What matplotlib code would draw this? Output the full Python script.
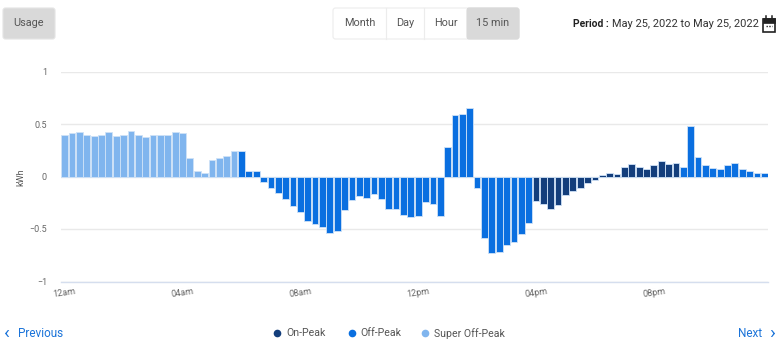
import matplotlib
matplotlib.use("Agg")
import matplotlib.pyplot as plt
from matplotlib.patches import FancyBboxPatch, Rectangle

plt.rcParams['font.family'] = ['Roboto', 'DejaVu Sans']

super_vals = [.40,.41,.425,.40,.39,.40,.42,.385,.40,.43,.40,.375,.40,.395,.40,.42,.41,.18,.05,.035,.16,.175,.195,.24]
off1_vals = [.245,.055,.055,-.055,-.11,-.16,-.21,-.28,-.34,-.42,-.455,-.485,-.535,-.515,-.32,-.22,-.19,-.205,-.165,-.21,
             -.31,-.31,-.37,-.39,-.375,-.24,-.265,-.375,.285,.59,.595,.65,-.11,-.585,-.73,-.715,-.655,-.62,-.55,-.44]
on_vals = [-.235,-.265,-.31,-.27,-.18,-.135,-.11,-.06,-.03,.01,.035,.02,.09,.115,.09,.07,.105,.145,.115,.125]
off2_vals = [.09,.485,.19,.105,.085,.07,.11,.125,.07,.055,.035,.035]
x_ticks = [0,16,32,48,64,80]
x_labels = ['12am','04am','08am','12pm','04pm','08pm']
y_ticks = [-1,-0.5,0,0.5,1]
y_labels = ['\u22121','\u22120.5','0','0.5','1']
legend_names = ['On-Peak','Off-Peak','Super Off-Peak']
views = ['Month','Day','Hour','15 min']

C_ON, C_OFF, C_SUPER = '#133e7c', '#0a6fe0', '#80b5ee'
W, H = 780, 358
fig = plt.figure(figsize=(W/100, H/100), dpi=100, facecolor='white')

# full-figure overlay in pixel coordinates for the page chrome
ui = fig.add_axes([0,0,1,1], zorder=0)
ui.set_xlim(0,W); ui.set_ylim(H,0); ui.axis('off')

ax = fig.add_axes([61/W, 1-281.5/H, (768-61)/W, 210/H], zorder=1)
ax.patch.set_alpha(0)
n = len(super_vals)+len(off1_vals)+len(on_vals)+len(off2_vals)
ax.set_xlim(-0.5, n-0.5)
ax.set_ylim(-1,1)
pos = 0
for vals, c in [(super_vals,C_SUPER),(off1_vals,C_OFF),(on_vals,C_ON),(off2_vals,C_OFF)]:
    ax.bar(range(pos,pos+len(vals)), vals, width=0.92, color=c, edgecolor='#cfe2f7', linewidth=0.6, zorder=3)
    pos += len(vals)
ax.set_yticks(y_ticks); ax.set_yticklabels(y_labels)
ax.set_xticks(x_ticks); ax.set_xticklabels(x_labels, rotation=8, ha='center')
ax.grid(axis='y', color='#e9e9e9', linewidth=1, zorder=0)
for s in ['top','left','right']: ax.spines[s].set_visible(False)
ax.spines['bottom'].set_color('#d5deee'); ax.spines['bottom'].set_linewidth(1)
ax.tick_params(axis='both', length=0, labelsize=6.5, colors='#666666')
ax.tick_params(axis='y', pad=10)
ax.tick_params(axis='x', pad=4)
ui.text(21,177,'kWh',rotation=90,fontsize=6.5,color='#555555',ha='center',va='center')

def btn(x0,y0,x1,y1,fc,ec):
    ui.add_patch(FancyBboxPatch((x0+2,y0+2),x1-x0-4,y1-y0-4,boxstyle='round,pad=2,rounding_size=2.5',fc=fc,ec=ec,lw=0.8))

btn(3,8,55,39,'#d9d9d9','#e4e4e4')
ui.text(29,23.5,'Usage',fontsize=7.8,color='#555555',ha='center',va='center')
btn(333,8,519,39,'white','#ececec')
ui.add_patch(FancyBboxPatch((469,10),48,27,boxstyle='round,pad=2,rounding_size=2.5',fc='#d9d9d9',ec='#d9d9d9',lw=0.8))
ui.add_patch(Rectangle((467,8),6,31,fc='#d9d9d9',ec='none'))
for xs in [386,424]:
    ui.plot([xs,xs],[8,39],color='#ececec',lw=0.8)
for t,xc in zip(views,[360,405,446,493]):
    ui.text(xc,23.5,t,fontsize=7.8,color='#555555',ha='center',va='center')
ui.text(573,24,'Period :',fontsize=7.4,fontweight='bold',color='#222222',ha='left',va='center')
ui.text(612,24,'May 25, 2022 to May 25, 2022',fontsize=7.9,color='#333333',ha='left',va='center')
# calendar icon
ui.add_patch(Rectangle((763,19),12,13,fc='white',ec='#222222',lw=1.2))
ui.add_patch(Rectangle((763,18),12,5,fc='#222222',ec='#222222',lw=0.5))
ui.plot([766,766],[16,19],color='#222222',lw=1.1); ui.plot([772,772],[16,19],color='#222222',lw=1.1)
ui.plot([766,772],[26,26],color='#222222',lw=1,ls=(0,(1,1)))

# footer
BL = '#1a73d9'
ui.text(4,333,'\u2039',fontsize=14,color=BL,ha='left',va='center')
ui.text(18,333.5,'Previous',fontsize=8.5,color=BL,ha='left',va='center')
ui.text(738,333.5,'Next',fontsize=8.5,color=BL,ha='left',va='center')
ui.text(769,333,'\u203a',fontsize=14,color=BL,ha='left',va='center')
for name,c,xd,xt in zip(legend_names,[C_ON,C_OFF,C_SUPER],[277,352,425],[286,360,434]):
    ui.plot([xd],[333],'o',ms=5.5,color=c,mec='none')
    ui.text(xt,333.5,name,fontsize=7.6,color='#555555',ha='left',va='center')

fig.savefig('out.png', dpi=100)
